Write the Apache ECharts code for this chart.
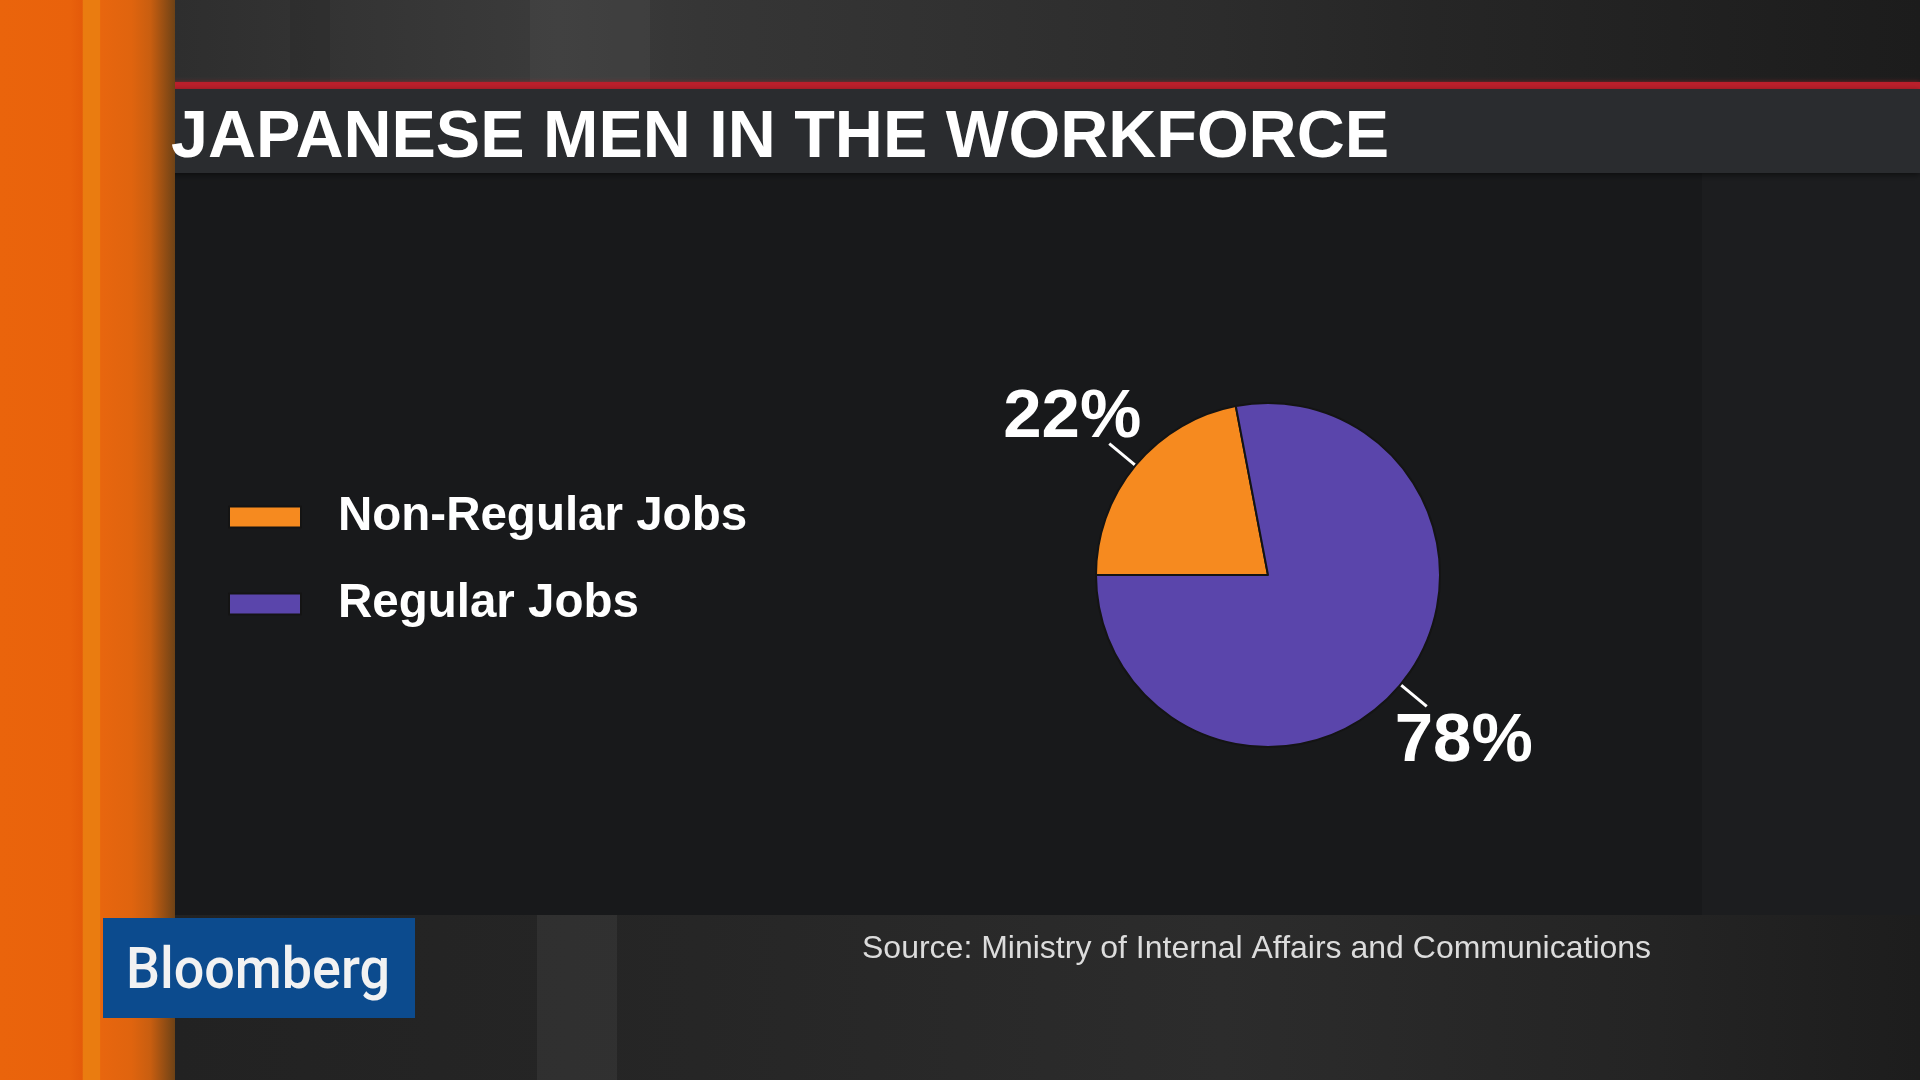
<!DOCTYPE html>
<html>
<head>
<meta charset="utf-8">
<script src="https://cdn.jsdelivr.net/npm/echarts@6/dist/echarts.min.js"></script>
<style>
  html, body { margin: 0; padding: 0; background: #1c1d1f; }
  #chart { width: 1920px; height: 1080px; }
</style>
</head>
<body>
<div id="chart"></div>
<script>
// ---- data ----
var titleText = 'JAPANESE MEN IN THE WORKFORCE';
var categories = ['Non-Regular Jobs', 'Regular Jobs'];
var shares = [22, 78];
var sliceColors = ['#f68a1f', '#5a45ab'];
var sourceText = 'Source: Ministry of Internal Affairs and Communications';
var brandText = 'Bloomberg';

var FONT = '"Liberation Sans", Arial, Helvetica, sans-serif';
var LABEL_GAP = 48;
var LABEL_DY = 5;

var chart = echarts.init(document.getElementById('chart'), null, { renderer: 'canvas' });

var pieData = categories.map(function (c, i) {
  return { name: c, value: shares[i], itemStyle: { color: sliceColors[i] } };
});

var option = {
  animation: false,
  backgroundColor: '#1c1d1f',
  graphic: [
    // top band
    { type: 'rect', z: -10, shape: { x: 175, y: 0, width: 1745, height: 84 },
      style: { fill: new echarts.graphic.LinearGradient(0, 0, 1, 0, [
        { offset: 0, color: '#2e2e2e' }, { offset: 0.1, color: '#343434' },
        { offset: 0.22, color: '#3b3b3b' }, { offset: 0.3, color: '#363636' },
        { offset: 0.45, color: '#313131' }, { offset: 0.6, color: '#2c2c2c' },
        { offset: 0.72, color: '#262626' }, { offset: 1, color: '#1c1c1c' }]) } },
    { type: 'rect', z: -9, shape: { x: 530, y: 0, width: 120, height: 84 }, style: { fill: 'rgba(255,255,255,0.035)' } },
    { type: 'rect', z: -9, shape: { x: 290, y: 0, width: 40, height: 84 }, style: { fill: 'rgba(0,0,0,0.08)' } },
    // red line
    { type: 'rect', z: -8, shape: { x: 158, y: 82, width: 1762, height: 7 },
      style: { fill: '#bb1f2b', shadowBlur: 4, shadowColor: 'rgba(200,30,40,0.6)' } },
    // title bar
    { type: 'rect', z: -8, shape: { x: 158, y: 89, width: 1762, height: 84 },
      style: { fill: '#2a2c2f', shadowBlur: 6, shadowColor: 'rgba(0,0,0,0.5)', shadowOffsetY: 2 } },
    // main panel
    { type: 'rect', z: -9, shape: { x: 175, y: 173, width: 1527, height: 742 }, style: { fill: '#18191b' } },
    // bottom band
    { type: 'rect', z: -10, shape: { x: 175, y: 915, width: 1745, height: 165 },
      style: { fill: new echarts.graphic.LinearGradient(0, 0, 1, 0, [
        { offset: 0, color: '#222222' }, { offset: 0.3, color: '#262626' },
        { offset: 0.6, color: '#2c2c2c' }, { offset: 0.85, color: '#242424' },
        { offset: 1, color: '#1d1d1d' }]) } },
    { type: 'rect', z: -9, shape: { x: 537, y: 915, width: 80, height: 165 }, style: { fill: 'rgba(255,255,255,0.05)' } },
    // left orange bar
    { type: 'rect', z: -7, shape: { x: 0, y: 0, width: 175, height: 1080 },
      style: { fill: new echarts.graphic.LinearGradient(0, 0, 1, 0, [
        { offset: 0, color: '#ea640c' }, { offset: 0.4, color: '#e9620c' },
        { offset: 0.47, color: '#e45a0a' }, { offset: 0.475, color: '#ea7c10' },
        { offset: 0.57, color: '#ea7c10' }, { offset: 0.575, color: '#e8660e' },
        { offset: 0.75, color: '#e0640e' }, { offset: 0.86, color: '#c85e10' },
        { offset: 1, color: '#6e4216' }]) } },
    // Bloomberg box
    { type: 'rect', z: 5, shape: { x: 103, y: 918, width: 312, height: 100 }, style: { fill: '#0c4b8e' } },
    { type: 'text', z: 6, left: 126, top: 945, scaleX: 0.945, originX: 0, originY: 0,
      style: { text: brandText, fill: '#f2f2f2', font: '500 57px Roboto, "Liberation Sans", sans-serif' } },
    // source
    { type: 'text', z: 6, left: 862, top: 933,
      style: { text: sourceText, fill: '#dcdcdc', font: '32px ' + FONT } }
  ],
  title: {
    text: titleText,
    left: 171,
    top: 105,
    padding: 0,
    textStyle: { color: '#ffffff', fontSize: 66.5, fontWeight: 'bold', fontFamily: FONT, lineHeight: 67 }
  },
  legend: {
    orient: 'vertical',
    left: 223,
    top: 487,
    itemWidth: 72,
    itemHeight: 21,
    itemGap: 37,
    icon: 'rect',
    selectedMode: false,
    data: categories,
    textStyle: { color: '#ffffff', fontSize: 47.5, fontWeight: 'bold', fontFamily: FONT,
      lineHeight: 50, padding: [0, 0, 0, 32] }
  },
  series: [{
    type: 'pie',
    center: [1268, 575],
    radius: 172,
    startAngle: 180,
    clockwise: true,
    silent: true,
    data: pieData,
    itemStyle: { borderColor: '#141414', borderWidth: 2 },
    emphasis: { disabled: true },
    label: {
      show: true,
      position: 'outside',
      formatter: function (p) { return p.value + '%'; },
      color: '#ffffff',
      fontSize: 69,
      fontWeight: 'bold',
      fontFamily: FONT
    },
    labelLine: {
      show: true,
      length: 34,
      length2: 0,
      lineStyle: { color: '#ffffff', width: 3 }
    },
    labelLayout: function (params) {
      var pts = params.labelLinePoints;
      if (!pts || pts.length < 2) return {};
      var a = pts[0], b = pts[1];
      var dx = b[0] - a[0], dy = b[1] - a[1];
      var len = Math.sqrt(dx * dx + dy * dy) || 1;
      return {
        x: b[0] + dx / len * LABEL_GAP,
        y: b[1] + dy / len * LABEL_GAP + LABEL_DY,
        align: 'center',
        verticalAlign: 'middle',
        labelLinePoints: pts
      };
    }
  }]
};

chart.setOption(option);
</script>
</body>
</html>
